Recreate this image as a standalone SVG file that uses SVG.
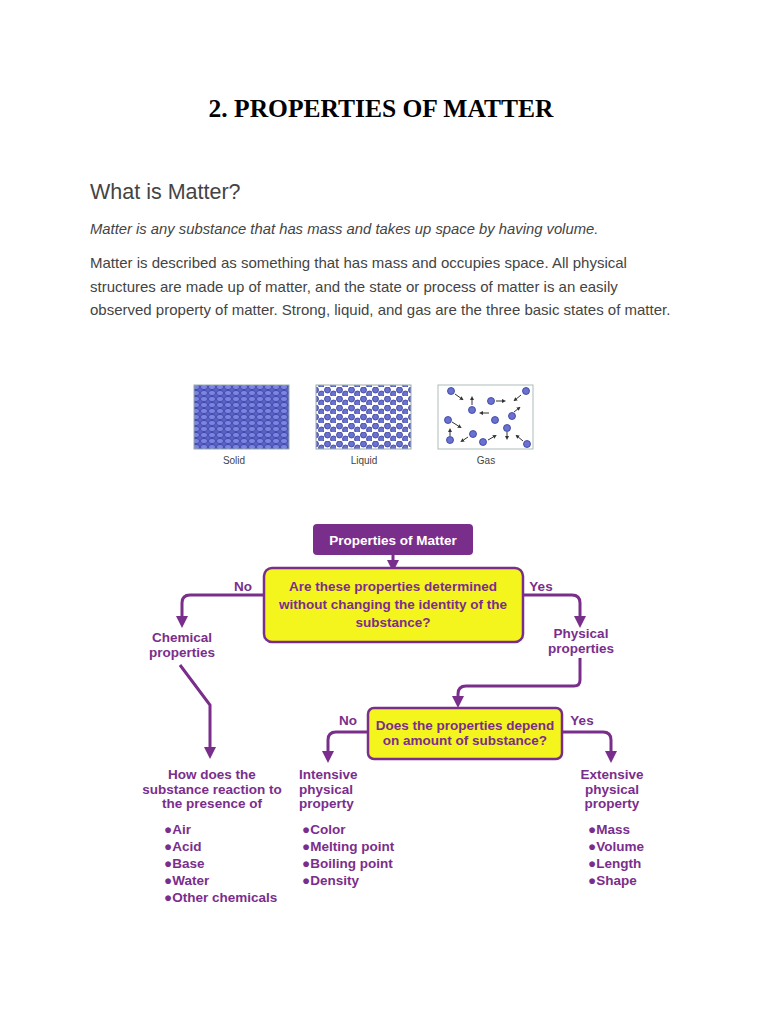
<svg xmlns="http://www.w3.org/2000/svg" width="768" height="1024" viewBox="0 0 768 1024">
<style>
.t{font-family:"Liberation Sans",Arial,sans-serif;fill:#444}
.p{font-family:"Liberation Sans",Arial,sans-serif;font-weight:bold;fill:#7a2e8c;font-size:13.5px}
.c{fill:none;stroke:#7a2e8c;stroke-width:3}
.y{fill:#f5f51e;stroke:#7a2e8c;stroke-width:2.5}
</style>
<defs>
<marker id="a" markerWidth="4" markerHeight="4" refX="1" refY="2" orient="auto" viewBox="0 0 4 4" markerUnits="strokeWidth"><path d="M0,0L4,2L0,4Z" fill="#7a2e8c"/></marker>
<marker id="g" markerWidth="4" markerHeight="4" refX="2" refY="2" orient="auto" viewBox="0 0 4 4"><path d="M0,0L4,2L0,4Z" fill="#333"/></marker>
<pattern id="sol" width="8" height="6" patternUnits="userSpaceOnUse"><rect width="8" height="6" fill="#5a63c8"/><ellipse cx="4" cy="3" rx="3.6" ry="2.6" fill="#7b84e0" stroke="#3a40a0" stroke-width="0.8"/></pattern>
<pattern id="liq" width="12" height="9" patternUnits="userSpaceOnUse"><circle cx="3.5" cy="3" r="3" fill="#6a72d0" stroke="#333a9a" stroke-width="0.8"/><circle cx="9.5" cy="7" r="3" fill="#6a72d0" stroke="#333a9a" stroke-width="0.8"/></pattern>
</defs>
<rect width="768" height="1024" fill="#fff"/>
<text x="381" y="117" text-anchor="middle" font-family="Liberation Serif,serif" font-weight="bold" font-size="25.5">2. PROPERTIES OF MATTER</text>
<text class="t" x="90" y="199" font-size="21.5">What is Matter?</text>
<text class="t" x="90" y="234" font-size="14.8" font-style="italic">Matter is any substance that has mass and takes up space by having volume.</text>
<text class="t" font-size="15"><tspan x="90" y="268">Matter is described as something that has mass and occupies space. All physical</tspan><tspan x="90" y="292">structures are made up of matter, and the state or process of matter is an easily</tspan><tspan x="90" y="315">observed property of matter. Strong, liquid, and gas are the three basic states of matter.</tspan></text>
<g id="solid"><rect x="194" y="385" width="95" height="64" fill="url(#sol)" stroke="#9aa" stroke-width="1"/><text class="t" x="234" y="464" text-anchor="middle" font-size="10">Solid</text></g>
<g id="liquid"><rect x="316" y="385" width="95" height="64" fill="url(#liq)" stroke="#9aa" stroke-width="1"/><text class="t" x="364" y="464" text-anchor="middle" font-size="10">Liquid</text></g>
<g id="gas" fill="#6a72d0" stroke="#333a9a" stroke-width="0.8"><rect x="438" y="385" width="95" height="64" fill="#fff" stroke="#9aa"/>
<circle cx="451" cy="391" r="3.5"/><circle cx="472" cy="410" r="3.5"/><circle cx="491" cy="401" r="3.5"/><circle cx="526" cy="391" r="3.5"/><circle cx="448" cy="420" r="3.5"/><circle cx="495" cy="420" r="3.5"/><circle cx="512" cy="416" r="3.5"/><circle cx="507" cy="428" r="3.5"/><circle cx="450" cy="440" r="3.5"/><circle cx="473" cy="434" r="3.5"/><circle cx="483" cy="442" r="3.5"/><circle cx="527" cy="444" r="3.5"/>
<g stroke="#333" stroke-width="1" marker-end="url(#g)"><path d="M455 394L462 399"/><path d="M472 405V398"/><path d="M496 401H504"/><path d="M521 395L515 400"/><path d="M452 422L460 427"/><path d="M489 413H481"/><path d="M514 412L519 408"/><path d="M507 432V438"/><path d="M450 436V430"/><path d="M468 437L462 441"/><path d="M488 440L495 436"/><path d="M523 441L517 436"/></g>
<text class="t" x="486" y="464" text-anchor="middle" font-size="10" stroke="none">Gas</text></g>
<g id="connectors" class="c">
<path d="M393 555V563" marker-end="url(#a)"/>
<path d="M264 595H190Q182 595 182 603V619" marker-end="url(#a)"/>
<path d="M523 595H572Q580 595 580 603V619" marker-end="url(#a)"/>
<path d="M580 658V680Q580 686 574 686H466Q458 686 458 694V699" marker-end="url(#a)"/>
<path d="M180 665L210 705V750" marker-end="url(#a)"/>
<path d="M368 732H336Q328 732 328 740V754" marker-end="url(#a)"/>
<path d="M562 732H603Q611 732 611 740V754" marker-end="url(#a)"/>
</g>
<g id="top"><rect x="313" y="524" width="160" height="31" rx="4" fill="#7a2e8c"/><text class="p" x="393" y="545" text-anchor="middle" style="fill:#fff" font-size="14.5">Properties of Matter</text></g>
<g id="q1"><rect class="y" x="264" y="568" width="259" height="74" rx="8"/><text class="p" text-anchor="middle"><tspan x="393" y="591">Are these properties determined</tspan><tspan x="393" y="609">without changing the identity of the</tspan><tspan x="393" y="627">substance?</tspan></text></g>
<text class="p" x="243" y="591" text-anchor="middle">No</text>
<text class="p" x="541" y="591" text-anchor="middle">Yes</text>
<g id="chem"><text class="p" text-anchor="middle"><tspan x="182" y="642">Chemical</tspan><tspan x="182" y="657">properties</tspan></text></g>
<g id="phys"><text class="p" text-anchor="middle"><tspan x="581" y="638">Physical</tspan><tspan x="581" y="653">properties</tspan></text></g>
<g id="q2"><rect class="y" x="368" y="708" width="194" height="51" rx="6"/><text class="p" text-anchor="middle"><tspan x="465" y="730">Does the properties depend</tspan><tspan x="465" y="745">on amount of substance?</tspan></text></g>
<text class="p" x="348" y="725" text-anchor="middle">No</text>
<text class="p" x="582" y="725" text-anchor="middle">Yes</text>
<g id="react"><text class="p" text-anchor="middle"><tspan x="212" y="779">How does the</tspan><tspan x="212" y="794">substance reaction to</tspan><tspan x="212" y="808">the presence of</tspan></text>
<text class="p"><tspan x="164" y="834">●Air</tspan><tspan x="164" y="851">●Acid</tspan><tspan x="164" y="868">●Base</tspan><tspan x="164" y="885">●Water</tspan><tspan x="164" y="902">●Other chemicals</tspan></text></g>
<g id="intensive"><text class="p"><tspan x="299" y="779">Intensive</tspan><tspan x="299" y="794">physical</tspan><tspan x="299" y="808">property</tspan></text>
<text class="p"><tspan x="302" y="834">●Color</tspan><tspan x="302" y="851">●Melting point</tspan><tspan x="302" y="868">●Boiling point</tspan><tspan x="302" y="885">●Density</tspan></text></g>
<g id="extensive"><text class="p" text-anchor="middle"><tspan x="612" y="779">Extensive</tspan><tspan x="612" y="794">physical</tspan><tspan x="612" y="808">property</tspan></text>
<text class="p"><tspan x="588" y="834">●Mass</tspan><tspan x="588" y="851">●Volume</tspan><tspan x="588" y="868">●Length</tspan><tspan x="588" y="885">●Shape</tspan></text></g>
</svg>
